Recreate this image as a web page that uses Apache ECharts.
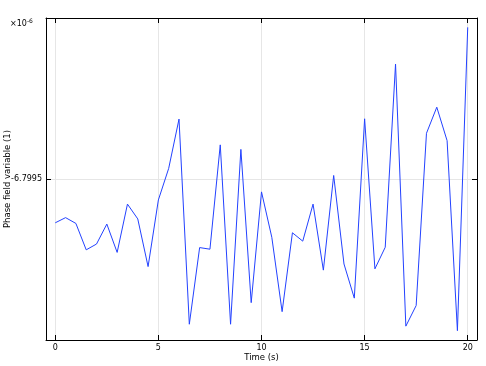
<!DOCTYPE html>
<html>
<head>
<meta charset="utf-8">
<script src="https://cdn.jsdelivr.net/npm/echarts@6/dist/echarts.min.js"></script>
<style>html,body{margin:0;padding:0;background:#fff;}#c{width:486px;height:366px;}</style>
</head>
<body>
<div id="c"></div>
<script>
var times = [0,0.5,1,1.5,2,2.5,3,3.5,4,4.5,5,5.5,6,6.5,7,7.5,8,8.5,9,9.5,10,10.5,11,11.5,12,12.5,13,13.5,14,14.5,15,15.5,16,16.5,17,17.5,18,18.5,19,19.5,20];
var phase = [-6.799636,-6.799620,-6.799638,-6.799720,-6.799702,-6.799640,-6.799728,-6.799578,-6.799624,-6.799772,
             -6.799565,-6.799467,-6.799314,-6.799951,-6.799713,-6.799718,-6.799394,-6.799951,-6.799408,-6.799884,
             -6.799540,-6.799681,-6.799912,-6.799667,-6.799693,-6.799578,-6.799783,-6.799489,-6.799764,-6.799870,
             -6.799313,-6.799779,-6.799712,-6.799143,-6.799957,-6.799893,-6.799358,-6.799277,-6.799381,-6.799971,
             -6.799029];
var xTicks = [0,5,10,15,20];
var yTicks = [-6.7995];
var yTickLabels = ['-6.7995'];
var xName = 'Time (s)';
var yName = 'Phase field variable (1)';

var font = 'DejaVu Sans';
var fs = 8;
var fsName = 8.5;
var data = times.map(function(t,i){return [t, phase[i]];});
var chart = echarts.init(document.getElementById('c'));
function yLab(v){for(var i=0;i<yTicks.length;i++){if(Math.abs(yTicks[i]-v)<1e-7)return yTickLabels[i];}return '';}
var gridColor = '#e6e6e6';
chart.setOption({
  animation:false,
  backgroundColor:'#fff',
  grid:{left:46,right:9,top:18,bottom:26,containLabel:false,outerBoundsMode:'none'},
  xAxis:[{
    type:'value',min:-0.45,max:20.45,position:'bottom',
    name:xName,nameLocation:'middle',nameGap:13,nameMoveOverlap:false,
    nameTextStyle:{fontFamily:font,fontSize:fsName,color:'#000'},
    axisLine:{onZero:false,lineStyle:{color:'#000',width:1}},
    axisTick:{inside:true,length:5,customValues:xTicks,lineStyle:{color:'#000'}},
    axisLabel:{fontFamily:font,fontSize:fs,color:'#000',margin:4,customValues:xTicks,
      formatter:function(v){return String(Math.round(v));}},
    splitLine:{show:true,customValues:xTicks,lineStyle:{color:gridColor,width:1}}
  },{
    type:'value',min:-0.45,max:20.45,position:'top',
    axisLine:{onZero:false,lineStyle:{color:'#000',width:1}},
    axisTick:{inside:true,length:5,customValues:xTicks,lineStyle:{color:'#000'}},
    axisLabel:{show:false},splitLine:{show:false}
  }],
  yAxis:[{
    type:'value',min:-6.8000,max:-6.7990,interval:0.0005,position:'left',
    name:yName,nameLocation:'middle',nameGap:34,nameRotate:90,nameMoveOverlap:false,
    nameTextStyle:{fontFamily:font,fontSize:fsName,color:'#000'},
    axisLine:{onZero:false,lineStyle:{color:'#000',width:1}},
    axisTick:{inside:true,length:5,customValues:yTicks,lineStyle:{color:'#000'}},
    axisLabel:{fontFamily:font,fontSize:fs,color:'#000',margin:4,customValues:yTicks,formatter:yLab},
    splitLine:{show:true,lineStyle:{color:gridColor,width:1}}
  },{
    type:'value',min:-6.8000,max:-6.7990,interval:0.0005,position:'right',
    axisLine:{onZero:false,lineStyle:{color:'#000',width:1}},
    axisTick:{inside:true,length:5,customValues:yTicks,lineStyle:{color:'#000'}},
    axisLabel:{show:false},splitLine:{show:false}
  }],
  graphic:[{
    type:'text',left:10,top:18,
    style:{text:'{a|×10}{b|-6}',rich:{a:{fontFamily:font,fontSize:fs,fill:'#000'},b:{fontFamily:font,fontSize:6,fill:'#000',verticalAlign:'top',padding:[0,0,6,0]}}}
  }],
  series:[{
    type:'line',xAxisIndex:0,yAxisIndex:0,data:data,showSymbol:false,symbol:'none',
    lineStyle:{color:'#2342ff',width:1},clip:true
  }]
});
</script>
</body>
</html>
